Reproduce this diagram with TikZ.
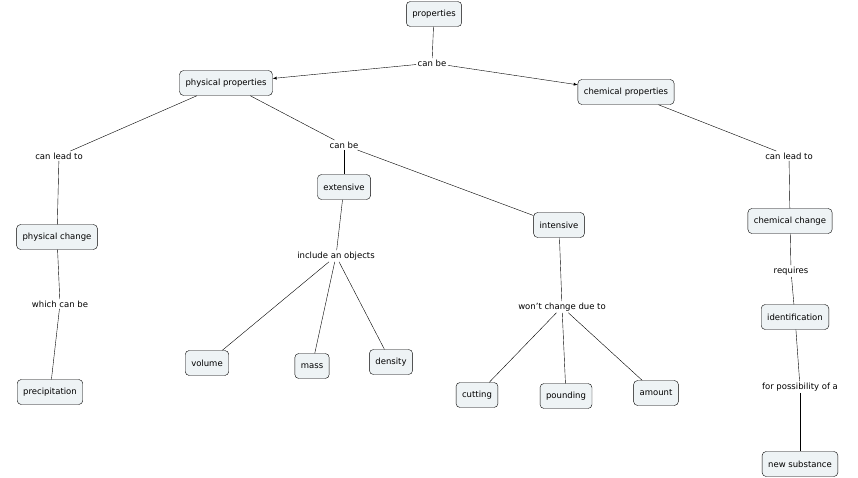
\documentclass[tikz,border=0pt]{standalone}
\usepackage{fontspec}
\setmainfont{DejaVu Sans}
\usetikzlibrary{arrows}

\begin{document}
\begin{tikzpicture}[x=1pt,y=-1pt,font=\fontsize{8.5}{10}\selectfont]

\tikzset{concept/.style = {draw,rounded corners=4pt,fill={rgb,255:red,238;green,243;blue,245},minimum height=25pt,inner xsep=6pt}}
\tikzset{phrase/.style = {fill=white,inner sep=1.5pt}}
\tikzset{edge/.style = {->,> = latex}}
\useasboundingbox (0,0) rectangle (858,478);
%concepts
\node[concept] (prop) at (434,14) {properties};
\node[concept] (phys) at (226,83) {physical properties};
\node[concept] (chem) at (626,92) {chemical properties};
\node[concept] (ext) at (344,187) {extensive};
\node[concept] (pchg) at (57,237) {physical change};
\node[concept] (int) at (559,225) {intensive};
\node[concept] (cchg) at (790,221) {chemical change};
\node[concept] (ident) at (795,317) {identification};
\node[concept] (vol) at (207,363) {volume};
\node[concept] (mass) at (312,366) {mass};
\node[concept] (dens) at (391,362) {density};
\node[concept] (prec) at (50,392) {precipitation};
\node[concept] (cut) at (477,395) {cutting};
\node[concept] (pound) at (566,396) {pounding};
\node[concept] (amt) at (656,393) {amount};
\node[concept] (news) at (800,464) {new substance};
%linking phrases
\node[phrase] (canbe) at (432,63) {can be};
\node[phrase] (leadL) at (59,156) {can lead to};
\node[phrase] (canbeB) at (344,145) {can be};
\node[phrase] (leadR) at (789,156) {can lead to};
\node[phrase] (incl) at (336,256) {include an objects};
\node[phrase] (req) at (791,271) {requires};
\node[phrase] (which) at (60,304) {which can be};
\node[phrase] (wont) at (562,307) {won't change due to};
\node[phrase] (poss) at (800,387) {for possibility of a};
%edges
\draw (prop) -- (canbe);
\draw [edge] (canbe) -- (phys);
\draw [edge] (canbe) -- (chem);
\draw (phys) -- (leadL);
\draw (leadL) -- (pchg);
\draw (pchg) -- (which);
\draw (which) -- (prec);
\draw (phys) -- (canbeB);
\draw (canbeB) -- (ext);
\draw (canbeB) -- (int);
\draw (ext) -- (incl);
\draw (incl) -- (vol);
\draw (incl) -- (mass);
\draw (incl) -- (dens);
\draw (int) -- (wont);
\draw (wont) -- (cut);
\draw (wont) -- (pound);
\draw (wont) -- (amt);
\draw (chem) -- (leadR);
\draw (leadR) -- (cchg);
\draw (cchg) -- (req);
\draw (req) -- (ident);
\draw (ident) -- (poss);
\draw (poss) -- (news);

\end{tikzpicture}
\end{document}
